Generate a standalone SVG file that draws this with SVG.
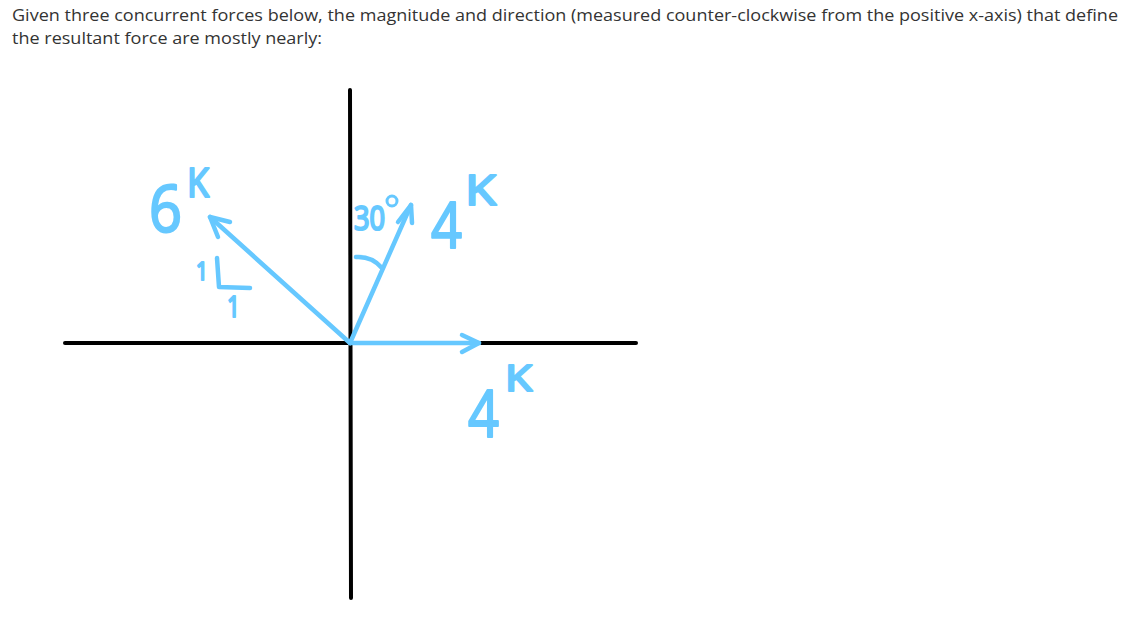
<svg xmlns="http://www.w3.org/2000/svg" width="1127" height="620" viewBox="0 0 1127 620">
<style>
.title{font-family:"Open Sans","Liberation Sans",sans-serif;font-size:15.5px;fill:#333}
.hand{font-family:"Open Sans","Liberation Sans",sans-serif;fill:#66c8ff;stroke:#66c8ff;stroke-width:2.2;stroke-linejoin:round;stroke-linecap:round}
.axis{stroke:#000;stroke-width:4;stroke-linecap:round;fill:none}
.vec{stroke:#66c8ff;stroke-width:4.5;stroke-linecap:round;stroke-linejoin:round;fill:none}
</style>
<rect width="1127" height="620" fill="#fff"/>
<g id="question">
<text class="title" x="12" y="21" textLength="1106" lengthAdjust="spacingAndGlyphs">Given three concurrent forces below, the magnitude and direction (measured counter-clockwise from the positive x-axis) that define</text>
<text class="title" x="12" y="44" textLength="310" lengthAdjust="spacingAndGlyphs">the resultant force are mostly nearly:</text>
</g>
<g id="axes">
<line class="axis" x1="350" y1="90" x2="351" y2="598"/>
<line class="axis" x1="65" y1="343" x2="636" y2="343"/>
</g>
<g id="connectors">
<g id="force-6k">
<line class="vec" x1="350" y1="343" x2="210" y2="217"/>
<polyline class="vec" points="218,237 210,217 230,222"/>
</g>
<g id="force-4k-30">
<line class="vec" x1="350" y1="343" x2="411" y2="205"/>
<polyline class="vec" points="398,222 411,205 412,223"/>
<path class="vec" d="M356,257 Q372,256 382,268" stroke-width="3.5"/>
</g>
<g id="force-4k-x">
<line class="vec" x1="350" y1="343" x2="479" y2="343" stroke-width="5"/>
<polyline class="vec" points="462,335 479,343 462,352"/>
</g>
</g>
<g id="label-6k">
<text class="hand" x="149" y="232" font-size="66" textLength="33" lengthAdjust="spacingAndGlyphs">6</text>
<text class="hand" x="187" y="197" font-size="40" textLength="22" lengthAdjust="spacingAndGlyphs">K</text>
</g>
<g id="slope">
<text class="hand" x="196" y="280" font-size="26" textLength="12" lengthAdjust="spacingAndGlyphs">1</text>
<polyline class="vec" points="217,258 219,287 250,288" stroke-width="4"/>
<text class="hand" x="227" y="317" font-size="30" textLength="13" lengthAdjust="spacingAndGlyphs">1</text>
</g>
<g id="label-30">
<text class="hand" x="354" y="230" font-size="32" textLength="31" lengthAdjust="spacingAndGlyphs" stroke-width="1.5">30</text>
<circle cx="392" cy="201" r="5" fill="none" stroke="#66c8ff" stroke-width="3"/>
</g>
<g id="label-4k-upper">
<text class="hand" x="431" y="248" font-size="64" textLength="31" lengthAdjust="spacingAndGlyphs">4</text>
<text class="hand" x="465" y="205" font-size="42" textLength="31" lengthAdjust="spacingAndGlyphs">K</text>
</g>
<g id="label-4k-lower">
<text class="hand" x="468" y="437" font-size="66" textLength="31" lengthAdjust="spacingAndGlyphs">4</text>
<text class="hand" x="505" y="391" font-size="36" textLength="27" lengthAdjust="spacingAndGlyphs">K</text>
</g>
</svg>
